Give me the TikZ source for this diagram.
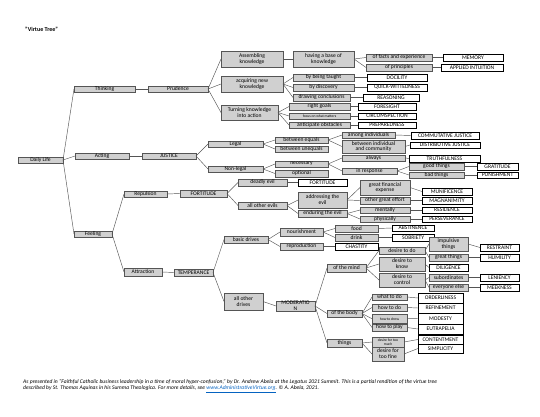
\documentclass[tikz,border=0pt]{standalone}
\usepackage{fontspec}
\setmainfont{Carlito}
\definecolor{gfill}{HTML}{D0D0D0}
\definecolor{gline}{HTML}{555555}
\definecolor{lnk}{HTML}{0563C1}
\newcommand\bxn[7]{%
  \pgfmathsetmacro\bw{#5-#3}\pgfmathsetmacro\bh{#6-#4}%
  \pgfmathsetmacro\bcx{(#3+#5)/2}\pgfmathsetmacro\bcy{(#4+#6)/2}%
  \node[#1, minimum width=\bw pt, minimum height=\bh pt] (#2) at (\bcx,\bcy) {#7};}
\tikzset{
  gbox/.style={draw=gline, fill=gfill, line width=0.5pt, inner sep=0pt, outer sep=0pt,
    font=\fontsize{5.6}{5.9}\selectfont, align=center},
  wbox/.style={draw=black, fill=white, line width=0.8pt, inner sep=0pt, outer sep=0pt,
    font=\fontsize{5.6}{5.9}\selectfont, align=center},
  tiny/.style={font=\fontsize{3.7}{4.1}\selectfont},
  conn/.style={draw=gline, line width=0.45pt},
}
\begin{document}
\begin{tikzpicture}[x=1pt,y=-1pt]
\useasboundingbox (0,0) rectangle (540,417);
\fill[white] (0,0) rectangle (540,417);
\node[anchor=west, font=\fontsize{6}{7}\selectfont\bfseries, inner sep=0pt] (title) at (25,29) {"Virtue Tree"};
% ---- Thinking
\bxn{gbox}{daily}{18}{157}{63}{163}{Daily Life}
\bxn{gbox}{thinking}{74}{86}{135}{92}{Thinking}
\bxn{gbox}{prudence}{148}{86}{208}{92}{Prudence}
\bxn{gbox}{assem}{221}{51}{283}{67}{Assembling\\knowledge}
\bxn{gbox}{base}{293}{51}{354}{67}{having a base of\\knowledge}
\bxn{gbox}{facts}{366}{54}{432}{61}{of facts and experience}
\bxn{gbox}{princ}{366}{64}{432}{71}{of principles}
\bxn{wbox}{memory}{443}{54}{503}{61}{MEMORY}
\bxn{wbox}{applied}{441}{64}{503}{71}{APPLIED INTUITION}
\bxn{gbox}{acq}{221}{76}{283}{92}{acquiring new\\knowledge}
\bxn{gbox}{taught}{293}{74}{354}{81}{by being taught}
\bxn{gbox}{discov}{293}{84}{354}{91}{by discovery}
\bxn{gbox}{drawing}{293}{94}{350}{101}{drawing conclusions}
\bxn{wbox}{docility}{367}{74}{427}{81}{DOCILITY}
\bxn{wbox}{quick}{367}{84}{427}{91}{QUICK-WITTEDNESS}
\bxn{wbox}{reason}{363}{94}{419}{101}{REASONING}
\bxn{gbox}{turn}{221}{105}{278}{120}{Turning knowledge\\into action}
\bxn{gbox}{goals}{289}{103}{350}{110}{right goals}
\bxn{gbox,tiny}{focus}{289}{113}{350}{119}{focus on what matters}
\bxn{gbox}{antic}{289}{122}{350}{128}{anticipate obstacles}
\bxn{wbox}{foresight}{358}{103}{416}{110}{FORESIGHT}
\bxn{wbox}{circum}{358}{113}{416}{119}{CIRCUMSPECTION}
\bxn{wbox}{prepar}{358}{122}{416}{128}{PREPAREDNESS}
% ---- Acting
\bxn{gbox}{acting}{75}{153}{129}{159}{Acting}
\bxn{gbox}{justice}{142}{153}{196}{159}{JUSTICE}
\bxn{gbox}{legal}{208}{141}{263}{147}{Legal}
\bxn{gbox}{nonlegal}{208}{166}{263}{172}{Non-legal}
\bxn{gbox}{equals}{275}{137}{328}{143}{between equals}
\bxn{gbox}{unequals}{275}{146}{328}{152}{between unequals}
\bxn{gbox}{among}{342}{132}{395}{138}{among individuals}
\bxn{gbox}{indcom}{342}{140}{405}{153}{between individual\\and community}
\bxn{wbox}{commut}{411}{132}{479}{139}{COMMUTATIVE JUSTICE}
\bxn{wbox}{distrib}{410}{142}{480}{148}{DISTRIBUTIVE JUSTICE}
\bxn{gbox}{necess}{275}{161}{328}{167}{necessary}
\bxn{gbox}{optional}{275}{170}{328}{177}{optional}
\bxn{gbox}{always}{342}{155}{405}{161}{always}
\bxn{gbox}{inresp}{342}{168}{397}{174}{in response}
\bxn{wbox}{truth}{409}{155}{480}{162}{TRUTHFULNESS}
\bxn{gbox}{good}{409}{163}{464}{170}{good things}
\bxn{gbox}{bad}{409}{172}{464}{178}{bad things}
\bxn{wbox}{grat}{477}{163}{518}{170}{GRATITUDE}
\bxn{wbox}{pun}{477}{172}{518}{178}{PUNISHMENT}
% ---- Feeling
\bxn{gbox}{feeling}{74}{231}{112}{237}{Feeling}
\bxn{gbox}{repulsion}{124}{191}{167}{197}{Repulsion}
\bxn{gbox}{fortg}{180}{190}{227}{197}{FORTITUDE}
\bxn{gbox}{deadly}{238}{179}{287}{186}{deadly evil}
\bxn{wbox}{fortw}{298}{179}{347}{186}{FORTITUDE}
\bxn{gbox}{allevils}{238}{202}{287}{209}{all other evils}
\bxn{gbox}{address}{298}{192}{347}{208}{addressing the\\evil}
\bxn{gbox}{endure}{298}{210}{347}{217}{enduring the evil}
\bxn{gbox}{finexp}{360}{180}{410}{195}{great financial\\expense}
\bxn{gbox}{effort}{360}{197}{410}{204}{other great effort}
\bxn{gbox}{mentally}{360}{207}{410}{213}{mentally}
\bxn{gbox}{physically}{360}{216}{410}{222}{physically}
\bxn{wbox}{munif}{422}{188}{472}{195}{MUNIFICENCE}
\bxn{wbox}{magnan}{422}{197}{472}{204}{MAGNANIMITY}
\bxn{wbox}{resil}{422}{207}{472}{213}{RESILIENCE}
\bxn{wbox}{persev}{422}{216}{472}{222}{PERSEVERANCE}
\bxn{gbox}{attraction}{124}{268}{162}{276}{Attraction}
\bxn{gbox}{temper}{174}{269}{213}{276}{TEMPERANCE}
\bxn{gbox}{basic}{224}{236}{268}{243}{basic drives}
\bxn{gbox}{nourish}{280}{228}{323}{236}{nourishment}
\bxn{gbox}{repro}{280}{243}{323}{250}{reproduction}
\bxn{gbox}{food}{335}{225}{378}{232}{food}
\bxn{gbox}{drink}{335}{234}{378}{241}{drink}
\bxn{wbox}{chastity}{335}{243}{378}{250}{CHASTITY}
\bxn{wbox}{abst}{392}{225}{434}{231}{ABSTINENCE}
\bxn{wbox}{sobr}{392}{234}{434}{241}{SOBRIETY}
\bxn{gbox}{otherdr}{224}{293}{263}{310}{all other\\drives}
\bxn{gbox}{moder}{276}{301}{315}{311}{MODERATIO\\N}
\bxn{gbox}{mind}{327}{264}{366}{272}{of the mind}
\bxn{gbox}{dodo}{379}{247}{425}{254}{desire to do}
\bxn{gbox}{know}{379}{257}{425}{271}{desire to\\know}
\bxn{gbox}{control}{379}{273}{425}{287}{desire to\\control}
\bxn{gbox}{impulsive}{429}{237}{468}{251}{impulsive\\things}
\bxn{gbox}{greatth}{429}{254}{468}{261}{great things}
\bxn{wbox}{dilig}{429}{264}{468}{271}{DILIGENCE}
\bxn{gbox}{subord}{429}{274}{468}{281}{subordinates}
\bxn{gbox}{everyone}{429}{284}{468}{291}{everyone else}
\bxn{wbox}{restr}{480}{244}{519}{251}{RESTRAINT}
\bxn{wbox}{humil}{480}{254}{519}{261}{HUMILITY}
\bxn{wbox}{lenien}{480}{274}{519}{281}{LENIENCY}
\bxn{wbox}{meek}{480}{284}{519}{291}{MEEKNESS}
\bxn{gbox}{body}{327}{310}{362}{317}{of the body}
\bxn{gbox}{what}{372}{294}{407}{300}{what to do}
\bxn{gbox}{how}{372}{304}{407}{311}{how to do}
\bxn{gbox,tiny}{dress}{372}{314}{407}{323.5}{how to dress}
\bxn{gbox}{play}{372}{324}{407}{331}{how to play}
\bxn{gbox}{things}{327}{339}{362}{347}{things}
\bxn{gbox,tiny}{toomuch}{372}{337}{404}{347}{desire for too\\much}
\bxn{gbox}{toofine}{372}{347}{404}{361}{desire for\\too fine}
\bxn{wbox}{order}{418}{293}{463}{303}{ORDERLINESS}
\bxn{wbox}{refine}{418}{303}{463}{313}{REFINEMENT}
\bxn{wbox}{modesty}{418}{313}{463}{324}{MODESTY}
\bxn{wbox}{eutrap}{418}{324}{463}{334}{EUTRAPELIA}
\bxn{wbox}{content}{418}{335}{463}{344}{CONTENTMENT}
\bxn{wbox}{simpl}{418}{344}{463}{353}{SIMPLICITY}
% ---- connectors
\foreach \a/\b in {daily/thinking,daily/acting,daily/feeling,thinking/prudence,
  prudence/assem,prudence/acq,prudence/turn,assem/base,base/facts,base/princ,
  facts/memory,princ/applied,acq/taught,acq/discov,acq/drawing,taught/docility,
  discov/quick,drawing/reason,turn/goals,turn/focus,turn/antic,goals/foresight,
  focus/circum,antic/prepar,acting/justice,justice/legal,justice/nonlegal,
  legal/equals,legal/unequals,equals/among,equals/indcom,among/commut,indcom/distrib,
  nonlegal/necess,nonlegal/optional,necess/always,necess/inresp,always/truth,
  inresp/good,inresp/bad,good/grat,bad/pun,
  feeling/repulsion,feeling/attraction,repulsion/fortg,fortg/deadly,fortg/allevils,
  deadly/fortw,allevils/address,allevils/endure,address/finexp,address/effort,
  endure/mentally,endure/physically,finexp/munif,effort/magnan,mentally/resil,
  physically/persev,attraction/temper,temper/basic,temper/otherdr,basic/nourish,
  basic/repro,nourish/food,nourish/drink,food/abst,drink/sobr,repro/chastity,
  otherdr/moder,moder/mind,moder/body,moder/things,mind/dodo,mind/know,mind/control,
  dodo/impulsive,dodo/greatth,impulsive/restr,greatth/humil,know/dilig,
  control/subord,control/everyone,subord/lenien,everyone/meek,
  body/what,body/how,body/dress,body/play,what/order,how/refine,dress/modesty,play/eutrap,
  things/toomuch,things/toofine,toomuch/content,toofine/simpl}
  {\draw[conn] (\a.east) -- (\b.west);}
% ---- footer
\node[anchor=west, inner sep=0pt, font=\fontsize{5.6}{6.5}\selectfont\itshape] (foot1) at (23,381.5)
  {As presented in ``Faithful Catholic business leadership in a time of moral hyper-confusion,'' by Dr. Andrew Abela at the Legatus 2021 Summit. This is a partial rendition of the virtue tree};
\node[anchor=west, inner sep=0pt, font=\fontsize{5.6}{6.5}\selectfont\itshape] (foot2) at (23,389)
  {described by St. Thomas Aquinas in his Summa Theologica. For more details, see \textcolor{lnk}{\underline{www.AdministrativeVirtue.org}}. © A. Abela, 2021.};
\end{tikzpicture}
\end{document}
